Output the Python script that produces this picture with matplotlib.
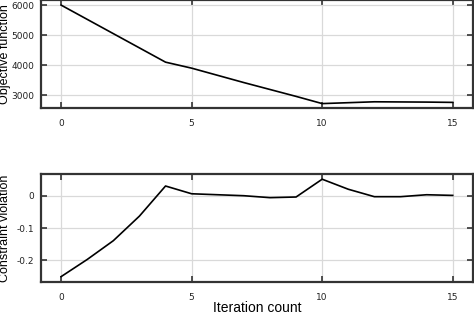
import matplotlib
matplotlib.use("Agg")
import matplotlib.pyplot as plt

# data
iterations = list(range(16))
objective = [6000, 5525, 5050, 4575, 4100, 3900, 3660, 3420, 3190, 2960,
             2720, 2750, 2780, 2775, 2770, 2760]
violation = [-0.250, -0.197, -0.139, -0.063, 0.030, 0.006, 0.003, 0.000,
             -0.006, -0.004, 0.051, 0.020, -0.003, -0.003, 0.003, 0.001]

x_ticks = [0, 5, 10, 15]
obj_ticks = [3000, 4000, 5000, 6000]
viol_ticks = [-0.2, -0.1, 0]
viol_ticklabels = ["-0.2", "-0.1", "0"]

plt.rcParams["font.family"] = "Liberation Sans"

fig = plt.figure(figsize=(4.74, 3.17), dpi=100)
ax1 = fig.add_axes([0.0865, 0.659, 0.911, 0.341])
ax2 = fig.add_axes([0.0865, 0.110, 0.911, 0.341])


def style(ax):
    ax.grid(True, color="#d9d9d9", linewidth=0.9)
    ax.set_axisbelow(True)
    for s in ax.spines.values():
        s.set_linewidth(1.6)
        s.set_color("#333333")
    ax.tick_params(direction="in", length=4, width=1.2, labelsize=6.5,
                   top=True, right=True, color="#333333", labelcolor="#222222")
    ax.tick_params(axis="x", pad=8)
    ax.tick_params(axis="y", pad=5)
    ax.set_xticks(x_ticks)
    ax.set_xlim(-0.77, 15.77)
    for lab in ax.get_xticklabels() + ax.get_yticklabels():
        lab.set_family("DejaVu Sans")


ax1.plot(iterations, objective, color="black", linewidth=1.2)
style(ax1)
ax1.set_yticks(obj_ticks)
ax1.set_ylim(2570, 6170)
ax1.set_ylabel("Objective function", fontsize=9)
ax1.yaxis.set_label_coords(-0.07, 0.5)

ax2.plot(iterations, violation, color="black", linewidth=1.2)
style(ax2)
ax2.set_yticks(viol_ticks)
ax2.set_yticklabels(viol_ticklabels)
ax2.set_ylim(-0.267, 0.067)
ax2.set_ylabel("Constraint violation", fontsize=9)
ax2.yaxis.set_label_coords(-0.07, 0.5)
ax2.set_xlabel("Iteration count", fontsize=10, labelpad=-1)

fig.savefig("out.png", dpi=100, facecolor="white")
